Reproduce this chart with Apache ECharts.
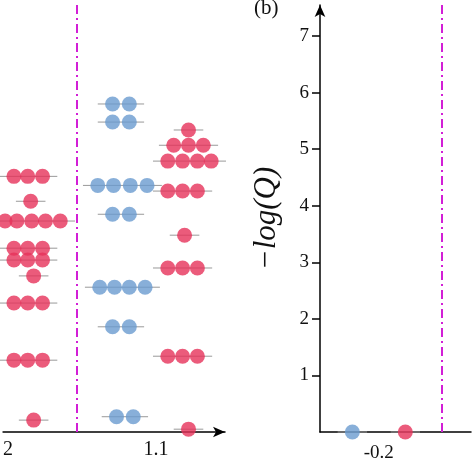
<!DOCTYPE html>
<html>
<head>
<meta charset="utf-8">
<script src="https://cdn.jsdelivr.net/npm/echarts@6/dist/echarts.min.js"></script>
<style>html,body{margin:0;background:#fff}#chart{width:474px;height:474px}</style>
</head>
<body>
<div id="chart"></div>
<script>
// rows: [-log(Q), x positions of the dots]
const leftRedRows = [
  [4.52, [11, 25, 40]], [4.08, [28]], [3.73, [2, 14, 29, 43, 58]],
  [3.25, [11, 25, 40]], [3.04, [11, 25, 40]], [2.76, [31]],
  [2.28, [11, 25, 40]], [1.27, [11, 25, 40]], [0.21, [31]]
]
const blueRows = [
  [5.80, [111, 128]], [5.48, [111, 128]], [4.36, [96, 112, 129, 146]],
  [3.85, [111, 128]], [2.56, [98, 113, 128, 144]], [1.86, [111, 128]],
  [0.27, [115, 132]]
]
const rightRedRows = [
  [5.34, [188]], [5.07, [173, 188, 203]], [4.79, [167, 182, 197, 211]],
  [4.26, [167, 182, 197]], [3.48, [184]], [2.90, [167, 182, 197]],
  [1.34, [167, 182, 197]], [0.05, [188]]
]
// panel b
const bBlueRows = [[0.0, [33]]]
const bRedRows = [[0.0, [87]]]
const leftTickLabels = { 5: '2', 155: '1.1' }
const rightTickLabels = { 60: '-0.2' }
const yTicks = [1, 2, 3, 4, 5, 6, 7]

const RED = '#e6325a'
const BLUE = '#6a9bd0'
const serif = 'Liberation Serif'

function dots (rows) {
  const out = []
  rows.forEach(r => r[1].forEach(x => out.push([x, r[0]])))
  return out
}
function bars (rows) {
  return rows.map(r => [Math.min(...r[1]) - 15, Math.max(...r[1]) + 15, r[0]])
}
function barSeries (rows, idx) {
  return {
    type: 'custom', xAxisIndex: idx, yAxisIndex: idx, z: 1,
    data: bars(rows),
    renderItem (params, api) {
      const a = api.coord([api.value(0), api.value(2)])
      const b = api.coord([api.value(1), api.value(2)])
      return { type: 'line', shape: { x1: a[0], y1: a[1], x2: b[0], y2: b[1] },
        style: { stroke: '#999', lineWidth: 1 } }
    }
  }
}
function dotSeries (rows, color, idx) {
  return { type: 'scatter', xAxisIndex: idx, yAxisIndex: idx, z: 3, symbolSize: 15,
    itemStyle: { color }, data: dots(rows) }
}
function vline (x, idx) {
  return { type: 'line', xAxisIndex: idx, yAxisIndex: idx, data: [], markLine: {
    symbol: 'none', silent: true, label: { show: false },
    lineStyle: { color: '#d21fd6', width: 2, type: [9, 4, 2, 4] },
    data: [[{ coord: [x, 0] }, { coord: [x, 7.55] }]] } }
}

const axisLine = { show: true, lineStyle: { color: '#000', width: 1.5 } }
const chart = echarts.init(document.getElementById('chart'))
chart.setOption({
  animation: false,
  grid: [
    { left: 0, right: 249, top: 5, bottom: 42 },
    { left: 320, right: 0, top: 5, bottom: 42 }
  ],
  xAxis: [
    { gridIndex: 0, type: 'value', min: 0, max: 225, interval: 5,
      axisLine: Object.assign({ symbol: ['none', 'arrow'], symbolSize: [8, 12] }, axisLine),
      axisTick: { show: false }, splitLine: { show: false },
      axisLabel: { fontFamily: serif, fontSize: 20, color: '#111', margin: 8,
        formatter: v => leftTickLabels[v] || '' } },
    { gridIndex: 1, type: 'value', min: 0, max: 154, interval: 2,
      axisLine, axisTick: { show: false }, splitLine: { show: false },
      axisLabel: { fontFamily: serif, fontSize: 19, color: '#111', margin: 12,
        formatter: v => rightTickLabels[v] || '' } }
  ],
  yAxis: [
    { gridIndex: 0, type: 'value', min: 0, max: 7.55, show: false },
    { gridIndex: 1, type: 'value', min: 0, max: 7.55, interval: 1,
      axisLine: Object.assign({ symbol: ['none', 'arrow'], symbolSize: [8, 12] }, axisLine),
      axisTick: { show: true, length: 8, lineStyle: { color: '#000', width: 1.5 },
        customValues: yTicks },
      axisLabel: { fontFamily: serif, fontSize: 19, color: '#111', margin: 11,
        customValues: yTicks },
      splitLine: { show: false },
      name: '−log(Q)', nameLocation: 'middle', nameGap: 38, nameRotate: 90,
      nameTextStyle: { fontFamily: serif, fontSize: 31, color: '#111', fontStyle: 'italic' } }
  ],
  graphic: [{ type: 'text', left: 254, top: -2,
    style: { text: '(b)', font: '21px "Liberation Serif"', fill: '#111' } }],
  series: [
    barSeries(leftRedRows, 0), barSeries(blueRows, 0), barSeries(rightRedRows, 0),
    dotSeries(leftRedRows, RED, 0), dotSeries(blueRows, BLUE, 0), dotSeries(rightRedRows, RED, 0),
    vline(75, 0),
    barSeries(bBlueRows, 1), barSeries(bRedRows, 1),
    dotSeries(bBlueRows, BLUE, 1), dotSeries(bRedRows, RED, 1),
    vline(124, 1)
  ]
})
</script>
</body>
</html>
